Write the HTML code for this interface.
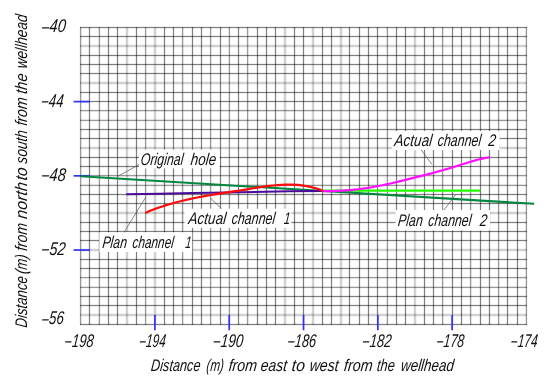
<!DOCTYPE html>
<html><head><meta charset="utf-8"><style>
html,body{margin:0;padding:0;background:#fff;}
svg{display:block;}
</style></head><body>
<svg width="550" height="384" viewBox="0 0 550 384">
<rect width="550" height="384" fill="#fff"/>
<g shape-rendering="crispEdges" fill="#000"><rect x="79" y="27" width="1" height="298" fill-opacity="0.036"/><rect x="81" y="27" width="1" height="298" fill-opacity="0.110"/><rect x="80" y="27" width="1" height="298" fill-opacity="0.400"/><rect x="88" y="27" width="1" height="298" fill-opacity="0.060"/><rect x="90" y="27" width="1" height="298" fill-opacity="0.060"/><rect x="89" y="27" width="1" height="298" fill-opacity="0.500"/><rect x="100" y="27" width="1" height="298" fill-opacity="0.036"/><rect x="98" y="27" width="1" height="298" fill-opacity="0.110"/><rect x="99" y="27" width="1" height="298" fill-opacity="0.400"/><rect x="107" y="27" width="1" height="298" fill-opacity="0.060"/><rect x="109" y="27" width="1" height="298" fill-opacity="0.060"/><rect x="108" y="27" width="1" height="298" fill-opacity="0.500"/><rect x="116" y="27" width="1" height="298" fill-opacity="0.060"/><rect x="118" y="27" width="1" height="298" fill-opacity="0.060"/><rect x="117" y="27" width="1" height="298" fill-opacity="0.500"/><rect x="125" y="27" width="1" height="298" fill-opacity="0.040"/><rect x="128" y="27" width="1" height="298" fill-opacity="0.040"/><rect x="126" y="27" width="1" height="298" fill-opacity="0.180"/><rect x="127" y="27" width="1" height="298" fill-opacity="0.180"/><rect x="135" y="27" width="1" height="298" fill-opacity="0.060"/><rect x="137" y="27" width="1" height="298" fill-opacity="0.060"/><rect x="136" y="27" width="1" height="298" fill-opacity="0.500"/><rect x="144" y="27" width="1" height="298" fill-opacity="0.036"/><rect x="146" y="27" width="1" height="298" fill-opacity="0.110"/><rect x="145" y="27" width="1" height="298" fill-opacity="0.400"/><rect x="153" y="27" width="1" height="298" fill-opacity="0.040"/><rect x="156" y="27" width="1" height="298" fill-opacity="0.040"/><rect x="154" y="27" width="1" height="298" fill-opacity="0.180"/><rect x="155" y="27" width="1" height="298" fill-opacity="0.180"/><rect x="163" y="27" width="1" height="298" fill-opacity="0.060"/><rect x="165" y="27" width="1" height="298" fill-opacity="0.060"/><rect x="164" y="27" width="1" height="298" fill-opacity="0.500"/><rect x="172" y="27" width="1" height="298" fill-opacity="0.060"/><rect x="174" y="27" width="1" height="298" fill-opacity="0.060"/><rect x="173" y="27" width="1" height="298" fill-opacity="0.500"/><rect x="181" y="27" width="1" height="298" fill-opacity="0.036"/><rect x="183" y="27" width="1" height="298" fill-opacity="0.110"/><rect x="182" y="27" width="1" height="298" fill-opacity="0.400"/><rect x="191" y="27" width="1" height="298" fill-opacity="0.060"/><rect x="193" y="27" width="1" height="298" fill-opacity="0.060"/><rect x="192" y="27" width="1" height="298" fill-opacity="0.500"/><rect x="200" y="27" width="1" height="298" fill-opacity="0.060"/><rect x="202" y="27" width="1" height="298" fill-opacity="0.060"/><rect x="201" y="27" width="1" height="298" fill-opacity="0.500"/><rect x="209" y="27" width="1" height="298" fill-opacity="0.036"/><rect x="211" y="27" width="1" height="298" fill-opacity="0.110"/><rect x="210" y="27" width="1" height="298" fill-opacity="0.400"/><rect x="219" y="27" width="1" height="298" fill-opacity="0.060"/><rect x="221" y="27" width="1" height="298" fill-opacity="0.060"/><rect x="220" y="27" width="1" height="298" fill-opacity="0.500"/><rect x="230" y="27" width="1" height="298" fill-opacity="0.036"/><rect x="228" y="27" width="1" height="298" fill-opacity="0.110"/><rect x="229" y="27" width="1" height="298" fill-opacity="0.400"/><rect x="237" y="27" width="1" height="298" fill-opacity="0.060"/><rect x="239" y="27" width="1" height="298" fill-opacity="0.060"/><rect x="238" y="27" width="1" height="298" fill-opacity="0.500"/><rect x="246" y="27" width="1" height="298" fill-opacity="0.036"/><rect x="248" y="27" width="1" height="298" fill-opacity="0.110"/><rect x="247" y="27" width="1" height="298" fill-opacity="0.400"/><rect x="256" y="27" width="1" height="298" fill-opacity="0.060"/><rect x="258" y="27" width="1" height="298" fill-opacity="0.060"/><rect x="257" y="27" width="1" height="298" fill-opacity="0.500"/><rect x="265" y="27" width="1" height="298" fill-opacity="0.060"/><rect x="267" y="27" width="1" height="298" fill-opacity="0.060"/><rect x="266" y="27" width="1" height="298" fill-opacity="0.500"/><rect x="274" y="27" width="1" height="298" fill-opacity="0.060"/><rect x="276" y="27" width="1" height="298" fill-opacity="0.060"/><rect x="275" y="27" width="1" height="298" fill-opacity="0.500"/><rect x="283" y="27" width="1" height="298" fill-opacity="0.040"/><rect x="286" y="27" width="1" height="298" fill-opacity="0.040"/><rect x="284" y="27" width="1" height="298" fill-opacity="0.180"/><rect x="285" y="27" width="1" height="298" fill-opacity="0.180"/><rect x="293" y="27" width="1" height="298" fill-opacity="0.060"/><rect x="295" y="27" width="1" height="298" fill-opacity="0.060"/><rect x="294" y="27" width="1" height="298" fill-opacity="0.500"/><rect x="302" y="27" width="1" height="298" fill-opacity="0.060"/><rect x="304" y="27" width="1" height="298" fill-opacity="0.060"/><rect x="303" y="27" width="1" height="298" fill-opacity="0.500"/><rect x="311" y="27" width="1" height="298" fill-opacity="0.040"/><rect x="314" y="27" width="1" height="298" fill-opacity="0.040"/><rect x="312" y="27" width="1" height="298" fill-opacity="0.180"/><rect x="313" y="27" width="1" height="298" fill-opacity="0.180"/><rect x="321" y="27" width="1" height="298" fill-opacity="0.060"/><rect x="323" y="27" width="1" height="298" fill-opacity="0.060"/><rect x="322" y="27" width="1" height="298" fill-opacity="0.500"/><rect x="330" y="27" width="1" height="298" fill-opacity="0.060"/><rect x="332" y="27" width="1" height="298" fill-opacity="0.060"/><rect x="331" y="27" width="1" height="298" fill-opacity="0.500"/><rect x="339" y="27" width="1" height="298" fill-opacity="0.040"/><rect x="342" y="27" width="1" height="298" fill-opacity="0.040"/><rect x="340" y="27" width="1" height="298" fill-opacity="0.180"/><rect x="341" y="27" width="1" height="298" fill-opacity="0.180"/><rect x="348" y="27" width="1" height="298" fill-opacity="0.060"/><rect x="350" y="27" width="1" height="298" fill-opacity="0.060"/><rect x="349" y="27" width="1" height="298" fill-opacity="0.500"/><rect x="358" y="27" width="1" height="298" fill-opacity="0.060"/><rect x="360" y="27" width="1" height="298" fill-opacity="0.060"/><rect x="359" y="27" width="1" height="298" fill-opacity="0.500"/><rect x="367" y="27" width="1" height="298" fill-opacity="0.060"/><rect x="369" y="27" width="1" height="298" fill-opacity="0.060"/><rect x="368" y="27" width="1" height="298" fill-opacity="0.500"/><rect x="376" y="27" width="1" height="298" fill-opacity="0.060"/><rect x="378" y="27" width="1" height="298" fill-opacity="0.060"/><rect x="377" y="27" width="1" height="298" fill-opacity="0.500"/><rect x="388" y="27" width="1" height="298" fill-opacity="0.036"/><rect x="386" y="27" width="1" height="298" fill-opacity="0.110"/><rect x="387" y="27" width="1" height="298" fill-opacity="0.400"/><rect x="395" y="27" width="1" height="298" fill-opacity="0.060"/><rect x="397" y="27" width="1" height="298" fill-opacity="0.060"/><rect x="396" y="27" width="1" height="298" fill-opacity="0.500"/><rect x="404" y="27" width="1" height="298" fill-opacity="0.060"/><rect x="406" y="27" width="1" height="298" fill-opacity="0.060"/><rect x="405" y="27" width="1" height="298" fill-opacity="0.500"/><rect x="413" y="27" width="1" height="298" fill-opacity="0.040"/><rect x="416" y="27" width="1" height="298" fill-opacity="0.040"/><rect x="414" y="27" width="1" height="298" fill-opacity="0.180"/><rect x="415" y="27" width="1" height="298" fill-opacity="0.180"/><rect x="423" y="27" width="1" height="298" fill-opacity="0.060"/><rect x="425" y="27" width="1" height="298" fill-opacity="0.060"/><rect x="424" y="27" width="1" height="298" fill-opacity="0.500"/><rect x="432" y="27" width="1" height="298" fill-opacity="0.060"/><rect x="434" y="27" width="1" height="298" fill-opacity="0.060"/><rect x="433" y="27" width="1" height="298" fill-opacity="0.500"/><rect x="441" y="27" width="1" height="298" fill-opacity="0.036"/><rect x="443" y="27" width="1" height="298" fill-opacity="0.110"/><rect x="442" y="27" width="1" height="298" fill-opacity="0.400"/><rect x="451" y="27" width="1" height="298" fill-opacity="0.060"/><rect x="453" y="27" width="1" height="298" fill-opacity="0.060"/><rect x="452" y="27" width="1" height="298" fill-opacity="0.500"/><rect x="460" y="27" width="1" height="298" fill-opacity="0.060"/><rect x="462" y="27" width="1" height="298" fill-opacity="0.060"/><rect x="461" y="27" width="1" height="298" fill-opacity="0.500"/><rect x="469" y="27" width="1" height="298" fill-opacity="0.036"/><rect x="471" y="27" width="1" height="298" fill-opacity="0.110"/><rect x="470" y="27" width="1" height="298" fill-opacity="0.400"/><rect x="479" y="27" width="1" height="298" fill-opacity="0.060"/><rect x="481" y="27" width="1" height="298" fill-opacity="0.060"/><rect x="480" y="27" width="1" height="298" fill-opacity="0.500"/><rect x="488" y="27" width="1" height="298" fill-opacity="0.060"/><rect x="490" y="27" width="1" height="298" fill-opacity="0.060"/><rect x="489" y="27" width="1" height="298" fill-opacity="0.500"/><rect x="497" y="27" width="1" height="298" fill-opacity="0.036"/><rect x="499" y="27" width="1" height="298" fill-opacity="0.110"/><rect x="498" y="27" width="1" height="298" fill-opacity="0.400"/><rect x="506" y="27" width="1" height="298" fill-opacity="0.060"/><rect x="508" y="27" width="1" height="298" fill-opacity="0.060"/><rect x="507" y="27" width="1" height="298" fill-opacity="0.500"/><rect x="516" y="27" width="1" height="298" fill-opacity="0.060"/><rect x="518" y="27" width="1" height="298" fill-opacity="0.060"/><rect x="517" y="27" width="1" height="298" fill-opacity="0.500"/><rect x="527" y="27" width="1" height="298" fill-opacity="0.036"/><rect x="525" y="27" width="1" height="298" fill-opacity="0.110"/><rect x="526" y="27" width="1" height="298" fill-opacity="0.400"/><rect x="80" y="26" width="447" height="1" fill-opacity="0.060"/><rect x="80" y="28" width="447" height="1" fill-opacity="0.060"/><rect x="80" y="27" width="447" height="1" fill-opacity="0.500"/><rect x="80" y="35" width="447" height="1" fill-opacity="0.060"/><rect x="80" y="37" width="447" height="1" fill-opacity="0.060"/><rect x="80" y="36" width="447" height="1" fill-opacity="0.500"/><rect x="80" y="44" width="447" height="1" fill-opacity="0.040"/><rect x="80" y="47" width="447" height="1" fill-opacity="0.040"/><rect x="80" y="45" width="447" height="1" fill-opacity="0.180"/><rect x="80" y="46" width="447" height="1" fill-opacity="0.180"/><rect x="80" y="54" width="447" height="1" fill-opacity="0.060"/><rect x="80" y="56" width="447" height="1" fill-opacity="0.060"/><rect x="80" y="55" width="447" height="1" fill-opacity="0.500"/><rect x="80" y="63" width="447" height="1" fill-opacity="0.060"/><rect x="80" y="65" width="447" height="1" fill-opacity="0.060"/><rect x="80" y="64" width="447" height="1" fill-opacity="0.500"/><rect x="80" y="72" width="447" height="1" fill-opacity="0.060"/><rect x="80" y="74" width="447" height="1" fill-opacity="0.060"/><rect x="80" y="73" width="447" height="1" fill-opacity="0.500"/><rect x="80" y="81" width="447" height="1" fill-opacity="0.040"/><rect x="80" y="84" width="447" height="1" fill-opacity="0.040"/><rect x="80" y="82" width="447" height="1" fill-opacity="0.180"/><rect x="80" y="83" width="447" height="1" fill-opacity="0.180"/><rect x="80" y="91" width="447" height="1" fill-opacity="0.060"/><rect x="80" y="93" width="447" height="1" fill-opacity="0.060"/><rect x="80" y="92" width="447" height="1" fill-opacity="0.500"/><rect x="80" y="100" width="447" height="1" fill-opacity="0.060"/><rect x="80" y="102" width="447" height="1" fill-opacity="0.060"/><rect x="80" y="101" width="447" height="1" fill-opacity="0.500"/><rect x="80" y="109" width="447" height="1" fill-opacity="0.036"/><rect x="80" y="111" width="447" height="1" fill-opacity="0.110"/><rect x="80" y="110" width="447" height="1" fill-opacity="0.400"/><rect x="80" y="121" width="447" height="1" fill-opacity="0.036"/><rect x="80" y="119" width="447" height="1" fill-opacity="0.110"/><rect x="80" y="120" width="447" height="1" fill-opacity="0.400"/><rect x="80" y="128" width="447" height="1" fill-opacity="0.060"/><rect x="80" y="130" width="447" height="1" fill-opacity="0.060"/><rect x="80" y="129" width="447" height="1" fill-opacity="0.500"/><rect x="80" y="137" width="447" height="1" fill-opacity="0.060"/><rect x="80" y="139" width="447" height="1" fill-opacity="0.060"/><rect x="80" y="138" width="447" height="1" fill-opacity="0.500"/><rect x="80" y="146" width="447" height="1" fill-opacity="0.040"/><rect x="80" y="149" width="447" height="1" fill-opacity="0.040"/><rect x="80" y="147" width="447" height="1" fill-opacity="0.180"/><rect x="80" y="148" width="447" height="1" fill-opacity="0.180"/><rect x="80" y="156" width="447" height="1" fill-opacity="0.060"/><rect x="80" y="158" width="447" height="1" fill-opacity="0.060"/><rect x="80" y="157" width="447" height="1" fill-opacity="0.500"/><rect x="80" y="165" width="447" height="1" fill-opacity="0.060"/><rect x="80" y="167" width="447" height="1" fill-opacity="0.060"/><rect x="80" y="166" width="447" height="1" fill-opacity="0.500"/><rect x="80" y="174" width="447" height="1" fill-opacity="0.036"/><rect x="80" y="176" width="447" height="1" fill-opacity="0.110"/><rect x="80" y="175" width="447" height="1" fill-opacity="0.400"/><rect x="80" y="186" width="447" height="1" fill-opacity="0.036"/><rect x="80" y="184" width="447" height="1" fill-opacity="0.110"/><rect x="80" y="185" width="447" height="1" fill-opacity="0.400"/><rect x="80" y="193" width="447" height="1" fill-opacity="0.060"/><rect x="80" y="195" width="447" height="1" fill-opacity="0.060"/><rect x="80" y="194" width="447" height="1" fill-opacity="0.500"/><rect x="80" y="202" width="447" height="1" fill-opacity="0.060"/><rect x="80" y="204" width="447" height="1" fill-opacity="0.060"/><rect x="80" y="203" width="447" height="1" fill-opacity="0.500"/><rect x="80" y="211" width="447" height="1" fill-opacity="0.040"/><rect x="80" y="214" width="447" height="1" fill-opacity="0.040"/><rect x="80" y="212" width="447" height="1" fill-opacity="0.180"/><rect x="80" y="213" width="447" height="1" fill-opacity="0.180"/><rect x="80" y="221" width="447" height="1" fill-opacity="0.060"/><rect x="80" y="223" width="447" height="1" fill-opacity="0.060"/><rect x="80" y="222" width="447" height="1" fill-opacity="0.500"/><rect x="80" y="230" width="447" height="1" fill-opacity="0.060"/><rect x="80" y="232" width="447" height="1" fill-opacity="0.060"/><rect x="80" y="231" width="447" height="1" fill-opacity="0.500"/><rect x="80" y="239" width="447" height="1" fill-opacity="0.060"/><rect x="80" y="241" width="447" height="1" fill-opacity="0.060"/><rect x="80" y="240" width="447" height="1" fill-opacity="0.500"/><rect x="80" y="248" width="447" height="1" fill-opacity="0.040"/><rect x="80" y="251" width="447" height="1" fill-opacity="0.040"/><rect x="80" y="249" width="447" height="1" fill-opacity="0.180"/><rect x="80" y="250" width="447" height="1" fill-opacity="0.180"/><rect x="80" y="258" width="447" height="1" fill-opacity="0.060"/><rect x="80" y="260" width="447" height="1" fill-opacity="0.060"/><rect x="80" y="259" width="447" height="1" fill-opacity="0.500"/><rect x="80" y="267" width="447" height="1" fill-opacity="0.060"/><rect x="80" y="269" width="447" height="1" fill-opacity="0.060"/><rect x="80" y="268" width="447" height="1" fill-opacity="0.500"/><rect x="80" y="276" width="447" height="1" fill-opacity="0.036"/><rect x="80" y="278" width="447" height="1" fill-opacity="0.110"/><rect x="80" y="277" width="447" height="1" fill-opacity="0.400"/><rect x="80" y="288" width="447" height="1" fill-opacity="0.036"/><rect x="80" y="286" width="447" height="1" fill-opacity="0.110"/><rect x="80" y="287" width="447" height="1" fill-opacity="0.400"/><rect x="80" y="295" width="447" height="1" fill-opacity="0.060"/><rect x="80" y="297" width="447" height="1" fill-opacity="0.060"/><rect x="80" y="296" width="447" height="1" fill-opacity="0.500"/><rect x="80" y="304" width="447" height="1" fill-opacity="0.060"/><rect x="80" y="306" width="447" height="1" fill-opacity="0.060"/><rect x="80" y="305" width="447" height="1" fill-opacity="0.500"/><rect x="80" y="313" width="447" height="1" fill-opacity="0.040"/><rect x="80" y="316" width="447" height="1" fill-opacity="0.040"/><rect x="80" y="314" width="447" height="1" fill-opacity="0.180"/><rect x="80" y="315" width="447" height="1" fill-opacity="0.180"/><rect x="80" y="323" width="447" height="1" fill-opacity="0.060"/><rect x="80" y="325" width="447" height="1" fill-opacity="0.060"/><rect x="80" y="324" width="447" height="1" fill-opacity="0.500"/></g>
<g stroke="#3030ff" stroke-width="1.7"><line x1="73.6" y1="101.62" x2="89.89" y2="101.62"/><line x1="73.6" y1="175.85" x2="89.89" y2="175.85"/><line x1="73.6" y1="250.07" x2="89.89" y2="250.07"/><line x1="154.91" y1="315.02" x2="154.91" y2="330.2"/><line x1="229.22" y1="315.02" x2="229.22" y2="330.2"/><line x1="303.54" y1="315.02" x2="303.54" y2="330.2"/><line x1="377.85" y1="315.02" x2="377.85" y2="330.2"/><line x1="452.16" y1="315.02" x2="452.16" y2="330.2"/></g>
<g fill="#fff"><rect x="139" y="149.6" width="80.60" height="18.70"/><rect x="99.4" y="232.3" width="92.80" height="19.70"/><rect x="184.5" y="208.7" width="106.90" height="19.10"/><rect x="391.9" y="131" width="107.70" height="19.00"/><rect x="395.5" y="210" width="94.50" height="20.50"/></g>
<g stroke="#555" stroke-width="0.7"><line x1="118.4" y1="176.1" x2="139" y2="164.6"/><line x1="124" y1="232.3" x2="145.6" y2="197.4"/><line x1="210.6" y1="198.3" x2="221.5" y2="208.7"/><line x1="421.3" y1="150" x2="432.0" y2="164.5"/><line x1="443.8" y1="210.1" x2="455.7" y2="194.7"/></g>
<line x1="322.5" y1="190.6" x2="480.0" y2="190.6" stroke="#22ff00" stroke-width="2.2"/><line x1="80.6" y1="176.3" x2="534.2" y2="203.8" stroke="#00873f" stroke-width="2.1"/><path d="M126.3 194.3 Q 232.5 191.9 322.5 191.1" stroke="#4a0a9a" stroke-width="2" fill="none"/><path d="M322.5 191.10 L326.5 191.08 L330.5 191.07 L334.5 191.00 L338.5 190.87 L342.5 190.66 L346.5 190.40 L350.5 190.07 L354.5 189.68 L358.5 189.22 L362.5 188.70 L366.5 188.12 L370.5 187.48 L374.5 186.77 L378.5 186.01 L382.5 185.21 L386.5 184.36 L390.5 183.47 L394.5 182.55 L398.5 181.60 L402.5 180.64 L406.5 179.66 L410.5 178.67 L414.5 177.67 L418.5 176.67 L422.5 175.65 L426.5 174.62 L430.5 173.57 L434.5 172.50 L438.5 171.41 L442.5 170.30 L446.5 169.16 L450.5 167.98 L454.5 166.77 L458.5 165.53 L462.5 164.26 L466.5 163.00 L470.5 161.78 L474.5 160.61 L478.5 159.54 L482.5 158.59 L486.5 157.79 L489.6 157.28" stroke="#ff10ff" stroke-width="2.2" fill="none" stroke-linejoin="round"/><path d="M145.5 212.90 L149.5 211.08 L153.5 209.53 L157.5 208.07 L161.5 206.69 L165.5 205.40 L169.5 204.18 L173.5 203.04 L177.5 201.97 L181.5 200.96 L185.5 200.00 L189.5 199.11 L193.5 198.26 L197.5 197.46 L201.5 196.69 L205.5 195.96 L209.5 195.27 L213.5 194.60 L217.5 193.94 L221.5 193.31 L225.5 192.69 L229.5 192.07 L233.5 191.46 L237.5 190.84 L241.5 190.22 L245.5 189.58 L249.5 188.93 L253.5 188.28 L257.5 187.64 L261.5 187.03 L265.5 186.46 L269.5 185.94 L273.5 185.49 L277.5 185.12 L281.5 184.85 L285.5 184.68 L289.5 184.63 L293.5 184.72 L297.5 184.96 L300.0 185.20 L301.5 185.37 L303.0 185.56 L304.5 185.78 L306.0 186.03 L307.5 186.31 L309.0 186.61 L310.5 186.94 L312.0 187.30 L313.5 187.69 L315.0 188.11 L316.5 188.56 L318.0 189.05 L319.5 189.56 L321.0 190.11 L322.5 191.10" stroke="#ff0a0a" stroke-width="2.2" fill="none" stroke-linejoin="round"/>
<g font-family="Liberation Sans, sans-serif" font-style="italic" fill="#111"><text transform="translate(140.25 164.60) skewX(-6)" font-size="16.8" textLength="42.80" lengthAdjust="spacingAndGlyphs">Original</text><text transform="translate(190.32 164.60) skewX(-6)" font-size="16.8" textLength="25.42" lengthAdjust="spacingAndGlyphs">hole</text><text transform="translate(101.90 247.90) skewX(-6)" font-size="16.8" textLength="24.66" lengthAdjust="spacingAndGlyphs">Plan</text><text transform="translate(132.09 247.90) skewX(-6)" font-size="16.8" textLength="41.23" lengthAdjust="spacingAndGlyphs">channel</text><text transform="translate(184.98 247.90) skewX(-6)" font-size="16.8" textLength="5.85" lengthAdjust="spacingAndGlyphs">1</text><text transform="translate(188.07 223.90) skewX(-6)" font-size="16.8" textLength="37.62" lengthAdjust="spacingAndGlyphs">Actual</text><text transform="translate(231.30 223.90) skewX(-6)" font-size="16.8" textLength="43.34" lengthAdjust="spacingAndGlyphs">channel</text><text transform="translate(283.60 223.90) skewX(-6)" font-size="16.8" textLength="6.35" lengthAdjust="spacingAndGlyphs">1</text><text transform="translate(394.07 146.00) skewX(-6)" font-size="16.8" textLength="37.62" lengthAdjust="spacingAndGlyphs">Actual</text><text transform="translate(437.30 146.00) skewX(-6)" font-size="16.8" textLength="43.34" lengthAdjust="spacingAndGlyphs">channel</text><text transform="translate(488.00 146.00) skewX(-6)" font-size="16.8" textLength="7.47" lengthAdjust="spacingAndGlyphs">2</text><text transform="translate(397.45 225.50) skewX(-6)" font-size="16.8" textLength="24.92" lengthAdjust="spacingAndGlyphs">Plan</text><text transform="translate(427.80 225.50) skewX(-6)" font-size="16.8" textLength="43.16" lengthAdjust="spacingAndGlyphs">channel</text><text transform="translate(479.56 225.50) skewX(-6)" font-size="16.8" textLength="7.24" lengthAdjust="spacingAndGlyphs">2</text><text transform="translate(150.54 371.00) skewX(-6)" font-size="16.8" textLength="49.42" lengthAdjust="spacingAndGlyphs">Distance</text><text transform="translate(206.10 371.00) skewX(-6)" font-size="16.8" textLength="17.34" lengthAdjust="spacingAndGlyphs">(m)</text><text transform="translate(228.15 371.00) skewX(-6)" font-size="16.8" textLength="28.40" lengthAdjust="spacingAndGlyphs">from</text><text transform="translate(260.30 371.00) skewX(-6)" font-size="16.8" textLength="26.26" lengthAdjust="spacingAndGlyphs">east</text><text transform="translate(291.29 371.00) skewX(-6)" font-size="16.8" textLength="13.19" lengthAdjust="spacingAndGlyphs">to</text><text transform="translate(309.15 371.00) skewX(-6)" font-size="16.8" textLength="29.02" lengthAdjust="spacingAndGlyphs">west</text><text transform="translate(343.54 371.00) skewX(-6)" font-size="16.8" textLength="28.69" lengthAdjust="spacingAndGlyphs">from</text><text transform="translate(376.43 371.00) skewX(-6)" font-size="16.8" textLength="17.85" lengthAdjust="spacingAndGlyphs">the</text><text transform="translate(400.41 371.00) skewX(-6)" font-size="16.8" textLength="53.18" lengthAdjust="spacingAndGlyphs">wellhead</text><text transform="translate(40.58 32.45) skewX(-6)" font-size="18.4" textLength="24.77" lengthAdjust="spacingAndGlyphs"><tspan dy="1.3">−</tspan><tspan dy="-1.3">40</tspan></text><text transform="translate(40.65 106.60) skewX(-6)" font-size="18.4" textLength="22.42" lengthAdjust="spacingAndGlyphs"><tspan dy="1.3">−</tspan><tspan dy="-1.3">44</tspan></text><text transform="translate(40.58 180.60) skewX(-6)" font-size="18.4" textLength="24.72" lengthAdjust="spacingAndGlyphs"><tspan dy="1.3">−</tspan><tspan dy="-1.3">48</tspan></text><text transform="translate(40.58 255.00) skewX(-6)" font-size="18.4" textLength="24.38" lengthAdjust="spacingAndGlyphs"><tspan dy="1.3">−</tspan><tspan dy="-1.3">52</tspan></text><text transform="translate(40.78 324.30) skewX(-6)" font-size="18.4" textLength="22.52" lengthAdjust="spacingAndGlyphs"><tspan dy="1.3">−</tspan><tspan dy="-1.3">56</tspan></text><text transform="translate(64.01 346.50) skewX(-6)" font-size="18.4" textLength="29.07" lengthAdjust="spacingAndGlyphs"><tspan dy="1.3">−</tspan><tspan dy="-1.3">198</tspan></text><text transform="translate(138.63 346.50) skewX(-6)" font-size="18.4" textLength="26.59" lengthAdjust="spacingAndGlyphs"><tspan dy="1.3">−</tspan><tspan dy="-1.3">194</tspan></text><text transform="translate(212.32 346.50) skewX(-6)" font-size="18.4" textLength="30.31" lengthAdjust="spacingAndGlyphs"><tspan dy="1.3">−</tspan><tspan dy="-1.3">190</tspan></text><text transform="translate(286.86 346.50) skewX(-6)" font-size="18.4" textLength="28.77" lengthAdjust="spacingAndGlyphs"><tspan dy="1.3">−</tspan><tspan dy="-1.3">186</tspan></text><text transform="translate(361.60 346.50) skewX(-6)" font-size="18.4" textLength="29.32" lengthAdjust="spacingAndGlyphs"><tspan dy="1.3">−</tspan><tspan dy="-1.3">182</tspan></text><text transform="translate(435.79 346.50) skewX(-6)" font-size="18.4" textLength="27.84" lengthAdjust="spacingAndGlyphs"><tspan dy="1.3">−</tspan><tspan dy="-1.3">178</tspan></text><text transform="translate(510.16 346.50) skewX(-6)" font-size="18.4" textLength="26.88" lengthAdjust="spacingAndGlyphs"><tspan dy="1.3">−</tspan><tspan dy="-1.3">174</tspan></text><text transform="translate(27.30 328.04) rotate(-90) skewX(-6)" font-size="16.8" textLength="51.46" lengthAdjust="spacingAndGlyphs">Distance</text><text transform="translate(27.30 274.34) rotate(-90) skewX(-6)" font-size="16.8" textLength="19.34" lengthAdjust="spacingAndGlyphs">(m)</text><text transform="translate(27.30 251.24) rotate(-90) skewX(-6)" font-size="16.8" textLength="27.67" lengthAdjust="spacingAndGlyphs">from</text><text transform="translate(27.30 219.19) rotate(-90) skewX(-6)" font-size="16.8" textLength="36.52" lengthAdjust="spacingAndGlyphs">north</text><text transform="translate(27.30 180.70) rotate(-90) skewX(-6)" font-size="16.8" textLength="12.97" lengthAdjust="spacingAndGlyphs">to</text><text transform="translate(27.30 163.89) rotate(-90) skewX(-6)" font-size="16.8" textLength="33.14" lengthAdjust="spacingAndGlyphs">south</text><text transform="translate(27.30 126.08) rotate(-90) skewX(-6)" font-size="16.8" textLength="28.34" lengthAdjust="spacingAndGlyphs">from</text><text transform="translate(27.30 94.22) rotate(-90) skewX(-6)" font-size="16.8" textLength="20.22" lengthAdjust="spacingAndGlyphs">the</text><text transform="translate(27.30 68.86) rotate(-90) skewX(-6)" font-size="16.8" textLength="53.99" lengthAdjust="spacingAndGlyphs">wellhead</text></g>
</svg>
</body></html>
